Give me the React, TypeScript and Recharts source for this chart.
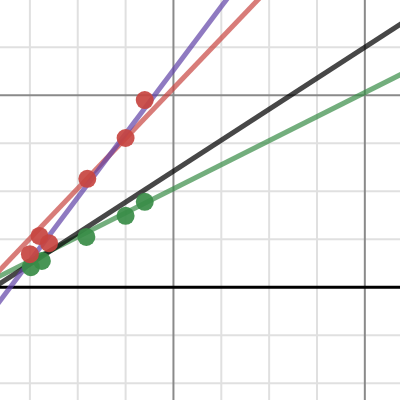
import React from "react";
import { ComposedChart, XAxis, YAxis, Line, Scatter, ReferenceLine } from "recharts";

// Grid ticks (data units)
const minorX = [1, 2, 3, 5, 6, 7];
const majorX = [4, 8];
const minorY = [-2, -1, 1, 2, 3, 5];
const majorY = [4];
const axisY = [0];

// Scatter series
const redX = [1.0, 1.2, 1.4, 2.2, 3.0, 3.4];
const redY = [0.69, 1.07, 0.92, 2.26, 3.11, 3.9];
const greenX = [1.02, 1.25, 2.18, 3.0, 3.4];
const greenY = [0.42, 0.55, 1.05, 1.49, 1.78];

// Fitted lines (endpoints)
const lineX = [0, 10];
const purpleY = [-0.78, 12.48];
const redLineY = [-0.03, 10.41];
const blackY = [-0.163, 6.29];
const greenLineY = [0.047, 5.06];

const X_DOMAIN: [number, number] = [0.375, 8.735];
const Y_DOMAIN: [number, number] = [-2.348, 5.985];

const toPts = (xs: number[], ys: number[]) => xs.map((x, i) => ({ x, y: ys[i] }));

const redPts = toPts(redX, redY);
const greenPts = toPts(greenX, greenY);
const purpleLine = toPts(lineX, purpleY);
const redLine = toPts(lineX, redLineY);
const blackLine = toPts(lineX, blackY);
const greenLine = toPts(lineX, greenLineY);

const dot = (color: string) => (props: any) => (
  <circle cx={props.cx} cy={props.cy} r={9} fill={color} fillOpacity={0.92} />
);

export default function App() {
  return (
    <div style={{ position: "absolute", left: 0, top: 0, width: 400, height: 400, background: "#fff" }}>
      <ComposedChart width={400} height={400} margin={{ top: 0, right: 0, bottom: 0, left: 0 }}>
        <XAxis type="number" dataKey="x" domain={X_DOMAIN} allowDataOverflow hide />
        <YAxis type="number" dataKey="y" domain={Y_DOMAIN} allowDataOverflow hide />
        {minorX.map((v) => (
          <ReferenceLine key={"mx" + v} x={v} stroke="#e0e0e0" strokeWidth={2} />
        ))}
        {minorY.map((v) => (
          <ReferenceLine key={"my" + v} y={v} stroke="#e0e0e0" strokeWidth={2} />
        ))}
        {majorX.map((v) => (
          <ReferenceLine key={"Mx" + v} x={v} stroke="#8a8a8a" strokeWidth={2} />
        ))}
        {majorY.map((v) => (
          <ReferenceLine key={"My" + v} y={v} stroke="#8a8a8a" strokeWidth={2} />
        ))}
        {axisY.map((v) => (
          <ReferenceLine key={"ax" + v} y={v} stroke="#000" strokeWidth={3} />
        ))}
        <Line data={greenLine} dataKey="y" type="linear" stroke="#388c46" strokeOpacity={0.7} strokeWidth={5} dot={false} activeDot={false} isAnimationActive={false} />
        <Line data={blackLine} dataKey="y" type="linear" stroke="#000" strokeOpacity={0.72} strokeWidth={5} dot={false} activeDot={false} isAnimationActive={false} />
        <Line data={redLine} dataKey="y" type="linear" stroke="#c74440" strokeOpacity={0.7} strokeWidth={5} dot={false} activeDot={false} isAnimationActive={false} />
        <Line data={purpleLine} dataKey="y" type="linear" stroke="#6042a6" strokeOpacity={0.7} strokeWidth={5} dot={false} activeDot={false} isAnimationActive={false} />
        <Scatter data={greenPts} dataKey="y" shape={dot("#388c46")} isAnimationActive={false} />
        <Scatter data={redPts} dataKey="y" shape={dot("#c74440")} isAnimationActive={false} />
      </ComposedChart>
    </div>
  );
}
